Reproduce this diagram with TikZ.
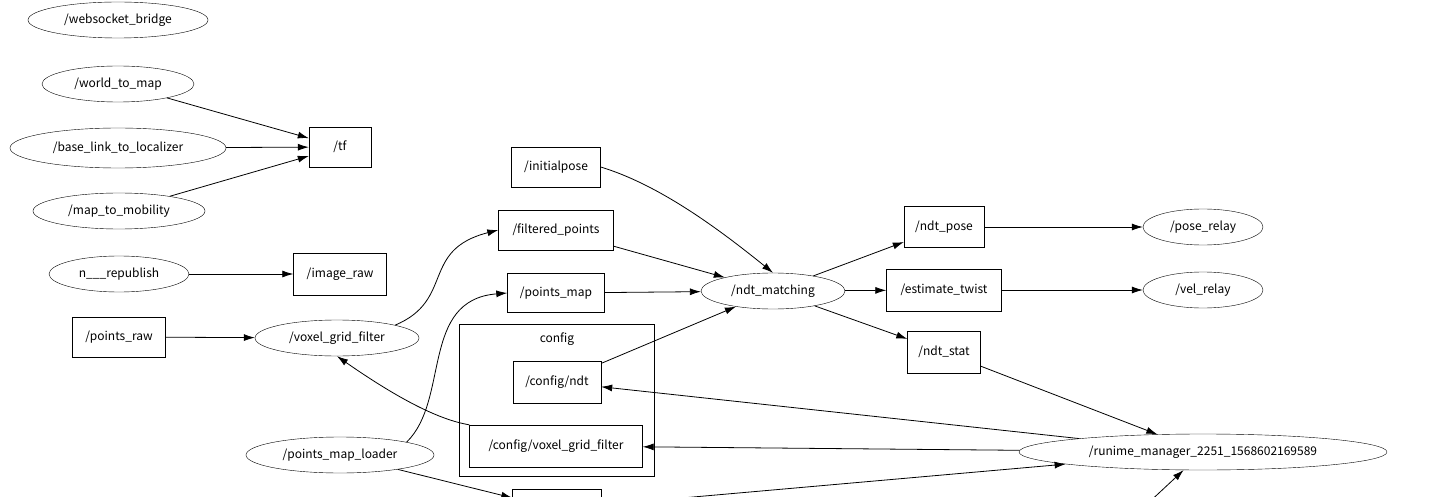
\documentclass[tikz,border=0pt]{standalone}
\usepackage{fontspec}
\setmainfont{Noto Sans CJK JP}
\usetikzlibrary{shapes.geometric,arrows.meta}

\tikzset{
  topic/.style={draw, rectangle, inner sep=0pt, font=\fontsize{12}{12}\selectfont},
  rosnode/.style={draw, ellipse, inner sep=0pt, font=\fontsize{12}{12}\selectfont},
  edge/.style={-{Latex[length=11pt,width=7pt]}, thick}
}

\begin{document}
\begin{tikzpicture}[x=1pt, y=-1pt]
\useasboundingbox (0,0) rectangle (1448,497);
\clip (0,0) rectangle (1448,497);

\node[rosnode, minimum width=180, minimum height=36] (ws) at (118,20) {/websocket\_bridge};
\node[rosnode, minimum width=152, minimum height=36] (w2m) at (118,84) {/world\_to\_map};
\node[rosnode, minimum width=216, minimum height=40] (bl2l) at (118,148) {/base\_link\_to\_localizer};
\node[rosnode, minimum width=172, minimum height=36] (m2m) at (119,211) {/map\_to\_mobility};
\node[topic, minimum width=62, minimum height=40] (tf) at (340,147) {/tf};
\node[rosnode, minimum width=140, minimum height=36] (repub) at (119,274) {n\_\_\_republish};
\node[topic, minimum width=93, minimum height=42] (img) at (340,274) {/image\_raw};
\node[topic, minimum width=93, minimum height=40] (praw) at (119,337) {/points\_raw};
\node[rosnode, minimum width=164, minimum height=36] (vgf) at (337,338) {/voxel\_grid\_filter};
\node[rosnode, minimum width=188, minimum height=36] (pml) at (340,455) {/points\_map\_loader};

\node[topic, minimum width=89, minimum height=40] (init) at (556,167) {/initialpose};
\node[topic, minimum width=115, minimum height=40] (filt) at (556,230) {/filtered\_points};
\node[topic, minimum width=97, minimum height=39] (pmap) at (556,293) {/points\_map};
\draw (459,324) rectangle (654,476);
\node[font=\fontsize{12}{12}\selectfont] (cfg) at (557,339) {config};
\node[topic, minimum width=88, minimum height=42] (cndt) at (557,382) {/config/ndt};
\node[topic, minimum width=173, minimum height=42] (cvgf) at (556,446) {/config/voxel\_grid\_filter};
\node[topic, minimum width=89, minimum height=40] (hidden) at (557,509) {};

\node[rosnode, minimum width=144, minimum height=36] (ndt) at (773,291) {/ndt\_matching};
\node[topic, minimum width=80, minimum height=41] (npose) at (944,227) {/ndt\_pose};
\node[topic, minimum width=115, minimum height=42] (etw) at (944,290) {/estimate\_twist};
\node[topic, minimum width=73, minimum height=42] (nstat) at (944,352) {/ndt\_stat};
\node[rosnode, minimum width=120, minimum height=36] (prel) at (1203,227) {/pose\_relay};
\node[rosnode, minimum width=120, minimum height=36] (vrel) at (1203,290) {/vel\_relay};
\node[rosnode, minimum width=368, minimum height=36] (rtm) at (1203,452) {/runime\_manager\_2251\_1568602169589};
\coordinate (below) at (1130,520);

\draw[edge] (w2m) -- (tf);
\draw[edge] (bl2l) -- (tf);
\draw[edge] (m2m) -- (tf);
\draw[edge] (repub) -- (img);
\draw[edge] (praw) -- (vgf);
\draw[edge] (vgf.north east) .. controls (455,300) and (420,250) .. (filt.west);
\draw[edge] (pml.north east) .. controls (450,400) and (420,300) .. (pmap.west);
\draw[edge] (init.east) .. controls (660,185) and (720,230) .. (ndt.north);
\draw[edge] (filt) -- (ndt);
\draw[edge] (pmap) -- (ndt);
\draw[edge] (cndt) -- (ndt);
\draw[edge] (ndt) -- (npose);
\draw[edge] (ndt) -- (etw);
\draw[edge] (ndt) -- (nstat);
\draw[edge] (npose) -- (prel);
\draw[edge] (etw) -- (vrel);
\draw[edge] (nstat) -- (rtm);
\draw[edge] (rtm) -- (cndt);
\draw[edge] (rtm) -- (cvgf);
\draw[edge] (cvgf.north west) .. controls (440,420) and (400,400) .. (vgf.south);
\draw[edge] (pml) -- (hidden);
\draw[edge] (hidden) -- (rtm);
\draw[edge] (below) -- (rtm);
\end{tikzpicture}
\end{document}
